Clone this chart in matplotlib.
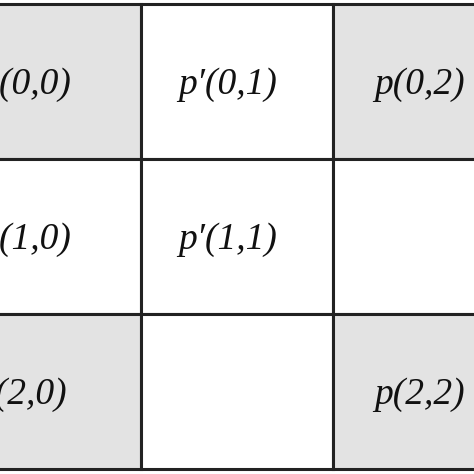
import matplotlib
matplotlib.use("Agg")
import matplotlib.pyplot as plt
from matplotlib.patches import Rectangle

labels = [["p′(0,0)", "p′(0,1)", "p(0,2)"],
          ["p′(1,0)", "p′(1,1)", ""],
          ["p(2,0)", "", "p(2,2)"]]
shaded = [[1, 0, 1],
          [0, 0, 0],
          [1, 0, 1]]

fig = plt.figure(figsize=(4.74, 4.74), dpi=100)
ax = fig.add_axes([0, 0, 1, 1])
ax.set_xlim(51/192, (474+51)/192)
ax.set_ylim((474-4)/155, -4/155)
ax.axis("off")
for r in range(3):
    for c in range(3):
        ax.add_patch(Rectangle((c, r), 1, 1, facecolor="#e3e3e3" if shaded[r][c] else "white",
                               edgecolor="#222222", linewidth=2.2))
        if labels[r][c]:
            dx = 0.38 if c == 0 else 0.45
            ax.text(c + dx, r + 0.52, labels[r][c], ha="center", va="center",
                    fontsize=27, family="Liberation Serif", style="italic", color="#111111")
fig.savefig("out.png", dpi=100)
